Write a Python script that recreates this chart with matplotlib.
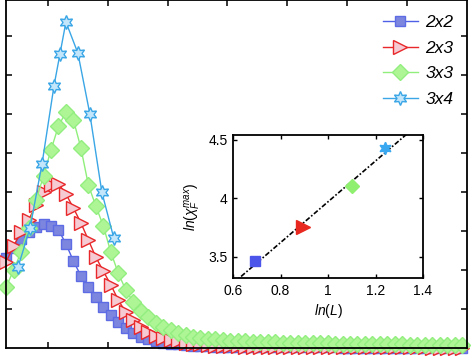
import numpy as np
import matplotlib
matplotlib.use("Agg")
import matplotlib.pyplot as plt

plt.rcParams['font.family'] = ['Liberation Sans', 'DejaVu Sans']
plt.rcParams['mathtext.fontset'] = 'custom'
plt.rcParams['mathtext.rm'] = 'Liberation Sans'
plt.rcParams['mathtext.it'] = 'Liberation Sans:italic'

# ---------------- data (main panel) ----------------
x_grid = [0.3, 0.425, 0.55, 0.675, 0.8, 0.925, 1.05, 1.175, 1.3, 1.425,
          1.55, 1.675, 1.8, 1.925, 2.05, 2.175, 2.3, 2.425, 2.55, 2.675,
          2.8, 2.925, 3.05, 3.175, 3.3, 3.425, 3.55, 3.675, 3.8, 3.925,
          4.05, 4.175, 4.3, 4.425, 4.55, 4.675, 4.8, 4.925, 5.05, 5.175,
          5.3, 5.425, 5.55, 5.675, 5.8, 5.925, 6.05, 6.175, 6.3, 6.425,
          6.55, 6.675, 6.8, 6.925, 7.05, 7.175, 7.3, 7.425, 7.55, 7.675,
          7.8, 7.925]

y_2x2 = [2.31, 2.56, 2.79, 2.97, 3.10, 3.18, 3.13, 3.03, 2.67, 2.23,
         1.85, 1.56, 1.31, 1.05, 0.85, 0.67, 0.51, 0.38, 0.29, 0.23,
         0.18, 0.14, 0.115, 0.09, 0.077, 0.064, 0.051, 0.044, 0.036, 0.031,
         0.026, 0.024, 0.022, 0.021, 0.020, 0.019, 0.018, 0.017, 0.016, 0.015,
         0.015, 0.014, 0.014, 0.013, 0.013, 0.012, 0.012, 0.012, 0.011, 0.011,
         0.011, 0.010, 0.010, 0.010, 0.010, 0.009, 0.009, 0.009, 0.009, 0.009,
         0.008, 0.008]

y_2x3 = [2.21, 2.62, 2.97, 3.28, 3.67, 4.00, 4.18, 4.21, 3.95, 3.59,
         3.21, 2.77, 2.33, 1.97, 1.62, 1.23, 0.92, 0.72, 0.54, 0.41,
         0.32, 0.26, 0.21, 0.17, 0.14, 0.115, 0.095, 0.077, 0.064, 0.051,
         0.044, 0.040, 0.037, 0.034, 0.032, 0.030, 0.028, 0.026, 0.025, 0.024,
         0.023, 0.022, 0.021, 0.020, 0.019, 0.018, 0.018, 0.017, 0.016, 0.016,
         0.015, 0.015, 0.014, 0.014, 0.013, 0.013, 0.013, 0.012, 0.012, 0.012,
         0.011, 0.011]

y_3x3 = [1.56, 2.00, 2.46, 3.08, 3.79, 4.41, 5.08, 5.69, 6.05, 5.85,
         5.13, 4.18, 3.64, 3.13, 2.46, 1.92, 1.49, 1.18, 0.95, 0.79,
         0.65, 0.54, 0.45, 0.38, 0.33, 0.29, 0.26, 0.24, 0.22, 0.20,
         0.185, 0.175, 0.168, 0.162, 0.156, 0.150, 0.145, 0.140, 0.135, 0.131,
         0.127, 0.123, 0.119, 0.116, 0.113, 0.110, 0.107, 0.104, 0.102, 0.099,
         0.097, 0.095, 0.093, 0.091, 0.089, 0.087, 0.085, 0.084, 0.082, 0.081,
         0.079, 0.078]

x_3x4 = [0.5, 0.7, 0.9, 1.1, 1.2, 1.3, 1.5, 1.7, 1.9, 2.1]
y_3x4 = [2.08, 3.08, 4.72, 6.72, 7.54, 8.36, 7.56, 6.00, 4.00, 2.82]

labels = ['2x2', '2x3', '3x3', '3x4']

# ---------------- data (inset) ----------------
lnL = [0.693, 0.896, 1.099, 1.242]
ln_chi = [3.466, 3.756, 4.107, 4.430]

W, H = 474, 357
fig = plt.figure(figsize=(W / 100, H / 100), dpi=100)
fig.patch.set_facecolor('white')

ax = fig.add_axes([6 / W, (H - 348) / H, 461 / W, 348 / H])
ax.set_xlim(0.2977, 8.0067)
ax.set_ylim(0, 348 / 39)
ax.set_xticks([1, 2, 3, 4, 5, 6, 7])
ax.set_yticks([1, 2, 3, 4, 5, 6, 7, 8])
ax.tick_params(direction='in', length=4, width=1.1, top=True, right=True,
               labelbottom=False, labelleft=False)
for s in ax.spines.values():
    s.set_linewidth(1.3)

styles = [
    dict(marker='s', color='#4f5fe6', mfc='#7c86de', mec='#5d6be4', ms=7.5),
    dict(marker='>', color='#e8282a', mfc='#f6cad2', mec='#e8282a', ms=10),
    dict(marker='D', color='#8fef7a', mfc='#aef596', mec='#93ee80', ms=8.2),
    dict(marker=(6, 1, 0), color='#3aa6e6', mfc='#c4e6fb', mec='#3aa6e6', ms=10),
]

series = [(x_grid, y_2x2), (x_grid, y_2x3), (x_grid, y_3x3), (x_3x4, y_3x4)]
handles = []
for (xs, ys), st, lab in zip(series, styles, labels):
    h, = ax.plot(xs, ys, lw=1.0, mew=1.0, label=lab, clip_on=False, **st)
    handles.append(h)

leg = fig.legend(handles=handles, loc='upper left',
                 bbox_to_anchor=(383 / W, 1 - 15 / H), frameon=False,
                 prop={'style': 'italic', 'size': 12.5}, handlelength=2.0,
                 handletextpad=0.45, labelspacing=0.6, borderpad=0,
                 borderaxespad=0)

# ---------------- inset ----------------
ins = fig.add_axes([233 / W, (H - 278) / H, 190 / W, 143 / H])
ins.set_facecolor('white')
ins.set_xlim(0.6, 1.4)
ins.set_ylim(3.32, 4.54)
ins.set_xticks([0.6, 0.8, 1.0, 1.2, 1.4])
ins.set_xticklabels(['0.6', '0.8', '1', '1.2', '1.4'])
ins.set_yticks([3.5, 4.0, 4.5])
ins.set_yticklabels(['3.5', '4', '4.5'])
ins.tick_params(direction='in', length=3, width=1.0, top=True, right=True,
                labelsize=10, pad=4)
for s in ins.spines.values():
    s.set_linewidth(1.3)

coef = np.polyfit(lnL, ln_chi, 1)
xf = np.array([0.6, 1.4])
ins.plot(xf, np.polyval(coef, xf), color='black', lw=1.2, ls='-.',
         dashes=(3, 1.2, 1, 1.2))

inset_styles = [
    dict(marker='s', color='#4b55ea', ms=7),
    dict(marker='>', color='#e8281e', ms=9.5),
    dict(marker='D', color='#8ff070', ms=7.5),
    dict(marker=(6, 1, 0), color='#3aa8f0', ms=9),
]
for xv, yv, st in zip(lnL, ln_chi, inset_styles):
    ins.plot([xv], [yv], ls='none', mec=st['color'], mfc=st['color'],
             marker=st['marker'], ms=st['ms'], zorder=3)

ins.set_xlabel(r'$\mathit{ln(L)}$', fontsize=10, labelpad=3)
ins.set_ylabel(r'$\mathit{ln(\chi_F^{max})}$', fontsize=10, labelpad=4)

fig.savefig('out.png', dpi=100, facecolor='white')
